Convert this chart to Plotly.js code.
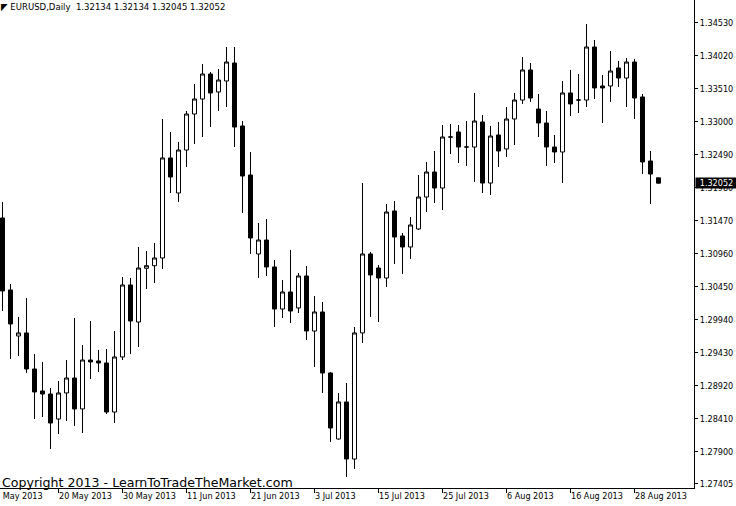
<!DOCTYPE html>
<html>
<head>
<meta charset="utf-8">
<script src="https://cdn.plot.ly/plotly-3.0.1.min.js"></script>
<style>
html,body{margin:0;padding:0;background:#fff;overflow:hidden}
#chart{width:736px;height:506px}
</style>
</head>
<body>
<div id="chart"></div>
<script>
// ---- data (EURUSD daily) ----
const symbol = 'EURUSD';
const period = 'Daily';
const copyright = 'Copyright 2013 - LearnToTradeTheMarket.com';

const dates = [
 '2013-05-09','2013-05-10','2013-05-13','2013-05-14','2013-05-15','2013-05-16','2013-05-17',
 '2013-05-20','2013-05-21','2013-05-22','2013-05-23','2013-05-24','2013-05-27','2013-05-28',
 '2013-05-29','2013-05-30','2013-05-31',
 '2013-06-03','2013-06-04','2013-06-05','2013-06-06','2013-06-07','2013-06-10','2013-06-11',
 '2013-06-12','2013-06-13','2013-06-14','2013-06-17','2013-06-18','2013-06-19','2013-06-20',
 '2013-06-21','2013-06-24','2013-06-25','2013-06-26','2013-06-27','2013-06-28',
 '2013-07-01','2013-07-02','2013-07-03','2013-07-04','2013-07-05','2013-07-08','2013-07-09',
 '2013-07-10','2013-07-11','2013-07-12','2013-07-15','2013-07-16','2013-07-17','2013-07-18',
 '2013-07-19','2013-07-22','2013-07-23','2013-07-24','2013-07-25','2013-07-26','2013-07-29',
 '2013-07-30','2013-07-31',
 '2013-08-01','2013-08-02','2013-08-05','2013-08-06','2013-08-07','2013-08-08','2013-08-09',
 '2013-08-12','2013-08-13','2013-08-14','2013-08-15','2013-08-16','2013-08-19','2013-08-20',
 '2013-08-21','2013-08-22','2013-08-23','2013-08-26','2013-08-27','2013-08-28','2013-08-29',
 '2013-08-30','2013-09-02'
];

const open = [
 1.31514,1.30402,1.29691,1.29738,1.29181,1.28842,1.28795,1.28409,1.28811,1.29042,
 1.28564,1.29320,1.29305,1.29274,1.28517,1.29367,1.30479,1.29907,1.30737,1.30777,
 1.30896,1.32441,1.31900,1.32564,1.33120,1.33352,1.33738,1.33460,1.33630,1.33908,
 1.32935,1.32178,1.30958,1.31174,1.30757,1.30108,1.30371,1.30124,1.30618,1.29768,
 1.30062,1.29120,1.28100,1.28672,1.27791,1.29738,1.30958,1.30741,1.30587,1.31622,
 1.31236,1.31066,1.31344,1.31838,1.32224,1.31977,1.32765,1.32842,1.32610,1.32610,
 1.32997,1.32054,1.32796,1.32580,1.33043,1.33336,1.33800,1.33197,1.32981,1.32610,
 1.32533,1.33445,1.33336,1.33336,1.34155,1.33553,1.33553,1.33831,1.33676,1.33923,
 1.33383,1.32394,1.32134
];
const high = [
 1.31761,1.30494,1.29985,1.30278,1.29413,1.29290,1.28888,1.28996,1.29320,1.29969,
 1.29552,1.29923,1.29475,1.29490,1.29768,1.30602,1.30587,1.31066,1.31004,1.31128,
 1.33043,1.32842,1.32688,1.33167,1.33584,1.33892,1.33769,1.33815,1.34155,1.34155,
 1.33012,1.32533,1.31437,1.31498,1.30865,1.30556,1.31020,1.30664,1.30772,1.30309,
 1.30216,1.29135,1.28811,1.28965,1.29830,1.32054,1.30989,1.30788,1.31730,1.31776,
 1.31282,1.31529,1.32178,1.32379,1.32549,1.32950,1.32966,1.32950,1.33012,1.33445,
 1.33105,1.32935,1.32997,1.33228,1.33445,1.34001,1.33908,1.33429,1.33167,1.32796,
 1.33630,1.33800,1.33738,1.34510,1.34263,1.33723,1.34093,1.33939,1.33985,1.33970,
 1.33429,1.32549,1.32134
];
const low = [
 1.30077,1.29336,1.29382,1.29120,1.28409,1.28440,1.27946,1.28177,1.28378,1.28301,
 1.28193,1.29027,1.29135,1.28486,1.28347,1.29320,1.29413,1.29521,1.30417,1.30510,
 1.30726,1.31900,1.31761,1.32301,1.32657,1.32765,1.32919,1.33167,1.33228,1.32610,
 1.31591,1.30958,1.30587,1.30618,1.29830,1.29969,1.29892,1.30046,1.29629,1.29212,
 1.28811,1.28054,1.28090,1.27513,1.27637,1.29583,1.29985,1.29907,1.30448,1.30803,
 1.30649,1.30881,1.31328,1.31606,1.31745,1.31637,1.32502,1.32363,1.32317,1.32070,
 1.31900,1.31869,1.32301,1.32456,1.32641,1.33275,1.33306,1.32765,1.32317,1.32363,
 1.32054,1.33089,1.33136,1.33228,1.33352,1.32981,1.33306,1.33537,1.33228,1.33043,
 1.32193,1.31730,1.32045
];
const close = [
 1.30386,1.29877,1.29738,1.29181,1.28826,1.28795,1.28347,1.28811,1.29042,1.28564,
 1.29320,1.29290,1.29274,1.28517,1.29367,1.30479,1.29923,1.30741,1.30777,1.30896,
 1.32441,1.32147,1.32564,1.33120,1.33352,1.33738,1.33445,1.33645,1.33923,1.32919,
 1.32162,1.31205,1.31174,1.30757,1.30108,1.30371,1.30077,1.30618,1.29768,1.30062,
 1.29120,1.28270,1.28672,1.27791,1.29738,1.30958,1.30633,1.30587,1.31606,1.31220,
 1.31066,1.31406,1.31838,1.32224,1.31977,1.32765,1.32765,1.32610,1.32610,1.33012,
 1.32054,1.32780,1.32549,1.33043,1.33336,1.33800,1.33367,1.32981,1.32610,1.32533,
 1.33445,1.33275,1.33336,1.34155,1.33522,1.33522,1.33784,1.33676,1.33923,1.33367,
 1.32379,1.32193,1.32052
];

const tickDates  = ['2013-05-08','2013-05-20','2013-05-30','2013-06-11','2013-06-21','2013-07-03',
                    '2013-07-15','2013-07-25','2013-08-06','2013-08-16','2013-08-28'];
const tickLabels = ['8 May 2013','20 May 2013','30 May 2013','11 Jun 2013','21 Jun 2013','3 Jul 2013',
                    '15 Jul 2013','25 Jul 2013','6 Aug 2013','16 Aug 2013','28 Aug 2013'];
const priceTicks = [1.27405,1.27900,1.28410,1.28920,1.29430,1.29940,1.30450,1.30960,
                    1.31470,1.31980,1.32490,1.33000,1.33510,1.34020,1.34530];

// ---- drawing ----
const FONT = '"DejaVu Sans Condensed", "DejaVu Sans", sans-serif';
const xRange = [-0.3125, 86.4375];
const yRange = [1.27343, 1.34881];
const last = close.length - 1;

const trace = {
  type: 'candlestick',
  x: dates, open: open, high: high, low: low, close: close,
  whiskerwidth: 0,
  line: {width: 1},
  increasing: {line: {color: '#000000', width: 1}, fillcolor: '#ffffff'},
  decreasing: {line: {color: '#000000', width: 1}, fillcolor: '#000000'},
  hoverinfo: 'skip',
  showlegend: false
};

function paperX(d) {
  let idx = dates.indexOf(d);
  if (idx < 0) idx = -1; // trading day just before the first visible bar
  return (idx - xRange[0]) / (xRange[1] - xRange[0]);
}

const annotations = tickDates.map((d, k) => ({
  xref: 'paper', yref: 'paper', x: paperX(d), y: 0,
  xanchor: 'left', yanchor: 'top', yshift: -2, xshift: -1,
  text: tickLabels[k], showarrow: false, borderpad: 0,
  font: {family: FONT, size: 9, color: '#000'}
}));

annotations.push({
  xref: 'paper', yref: 'paper', x: 0, y: 1, xanchor: 'left', yanchor: 'top',
  text: '\u25E4 ' + symbol + ',' + period + '\u00a0\u00a0' +
        [open[last], high[last], low[last], close[last]].map(v => v.toFixed(5)).join(' '),
  showarrow: false, borderpad: 0, yshift: 0,
  font: {family: FONT, size: 9.5, color: '#000'}
});

annotations.push({
  xref: 'paper', yref: 'paper', x: 0, y: 0, xanchor: 'left', yanchor: 'bottom',
  text: copyright, showarrow: false, borderpad: 0, xshift: 1, yshift: -3,
  font: {family: '"DejaVu Sans", sans-serif', size: 12.6, color: '#000'}
});

annotations.push({
  xref: 'paper', yref: 'y', x: 1, y: close[last], xanchor: 'left', yanchor: 'middle',
  text: close[last].toFixed(5), showarrow: false, borderpad: 0, xshift: 1,
  width: 41, align: 'center', bgcolor: '#000000',
  font: {family: FONT, size: 9, color: '#ffffff'}
});

const layout = {
  width: 736, height: 506,
  margin: {l: 0, r: 42, t: 0, b: 18, pad: 0},
  paper_bgcolor: '#ffffff', plot_bgcolor: '#ffffff',
  showlegend: false,
  boxgap: 0.5, boxgroupgap: 0,
  xaxis: {
    type: 'category', range: xRange, rangeslider: {visible: false},
    showgrid: false, zeroline: false, showline: true, linecolor: '#000', linewidth: 1,
    ticks: 'outside', ticklen: 4, tickwidth: 1, tickcolor: '#000',
    tickmode: 'array', tickvals: tickDates.filter(d => dates.includes(d)),
    showticklabels: false, fixedrange: true
  },
  yaxis: {
    side: 'right', range: yRange,
    showgrid: false, zeroline: false, showline: true, linecolor: '#000', linewidth: 1,
    ticks: 'outside', ticklen: 3, tickwidth: 1, tickcolor: '#000',
    tickmode: 'array', tickvals: priceTicks, ticktext: priceTicks.map(v => v.toFixed(5)),
    tickfont: {family: FONT, size: 9, color: '#000'}, fixedrange: true
  },
  annotations: annotations
};

Plotly.newPlot('chart', [trace], layout, {displayModeBar: false, staticPlot: true});
</script>
</body>
</html>
